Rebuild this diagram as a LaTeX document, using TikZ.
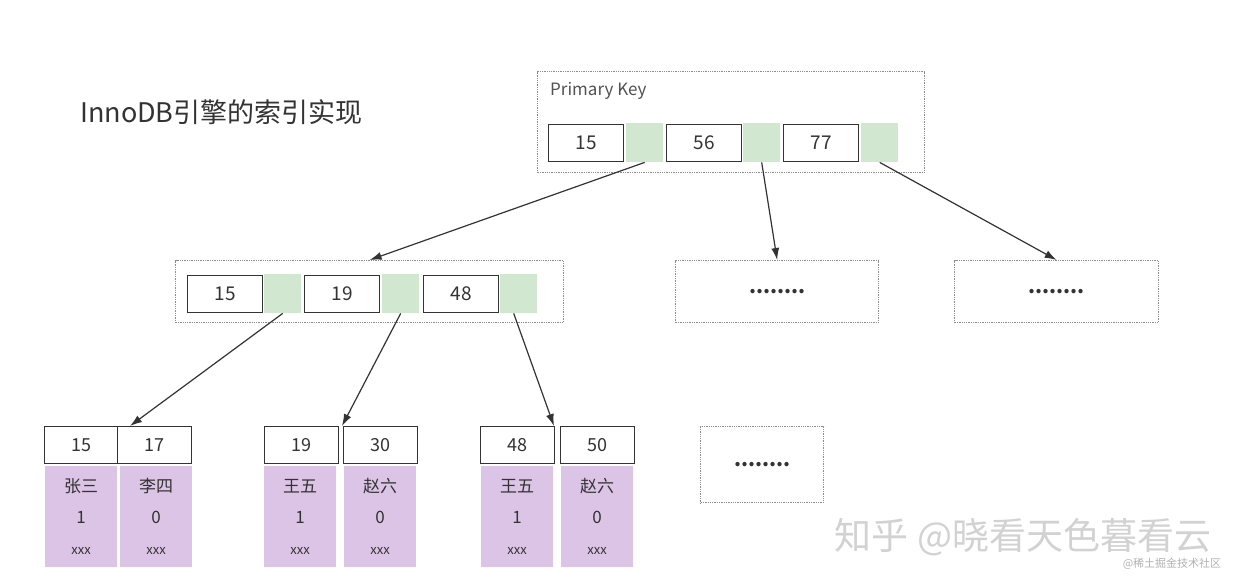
\documentclass[tikz,border=0pt]{standalone}
\usepackage{fontspec}
\setmainfont{Noto Sans CJK SC}
\usetikzlibrary{arrows.meta}
\definecolor{keygreen}{HTML}{D2E7CF}
\definecolor{rowpurple}{HTML}{DCC4E6}
\definecolor{inkgray}{HTML}{333333}

\begin{document}
\begin{tikzpicture}[x=1pt, y=-1pt,
    every node/.style={text=inkgray, inner sep=0pt},
    page/.style={draw=gray!90, densely dotted, line width=1.3pt, anchor=north west},
    keybox/.style={draw=inkgray, line width=1pt, fill=white, anchor=north west,
      minimum width=75pt, minimum height=37pt, font=\fontsize{19}{19}\selectfont},
    ptr/.style={fill=keygreen, anchor=north west, minimum width=37pt, minimum height=39pt},
    leafkey/.style={keybox, minimum width=74pt, font=\fontsize{18}{18}\selectfont},
    rowcell/.style={fill=rowpurple, anchor=north west, minimum width=72pt, minimum height=101pt,
      align=center, font=\fontsize{17}{31}\selectfont},
    more/.style={font=\bfseries\fontsize{20}{20}\selectfont},
    link/.style={-{Latex[length=12pt,width=8pt]}, draw=inkgray, line width=1.2pt}]
  \useasboundingbox[fill=white] (0,0) rectangle (1240,586);

  \node[anchor=west, font=\fontsize{27}{27}\selectfont, text=inkgray] (title) at (80,112) {InnoDB引擎的索引实现};

  % root page
  \node[page, minimum width=387pt, minimum height=101pt] (root) at (537,71) {};
  \node[anchor=west, font=\fontsize{17}{17}\selectfont, text=inkgray!85] (pkname) at (550,91) {Primary Key};
  \node[keybox] (k15) at (548,124) {15};
  \node[ptr] (p15) at (626,123) {};
  \node[keybox] (k56) at (666,124) {56};
  \node[ptr] (p56) at (743,123) {};
  \node[keybox] (k77) at (783,124) {77};
  \node[ptr] (p77) at (861,123) {};

  % second level
  \node[page, minimum width=388pt, minimum height=62pt] (mid) at (175,260) {};
  \node[keybox] (m15) at (187,275) {15};
  \node[ptr] (q15) at (264,274) {};
  \node[keybox] (m19) at (304,275) {19};
  \node[ptr] (q19) at (382,274) {};
  \node[keybox] (m48) at (423,275) {48};
  \node[ptr] (q48) at (500,274) {};
  \node[page, minimum width=203pt, minimum height=62pt, more] (midb) at (675,260) {........};
  \node[page, minimum width=204pt, minimum height=62pt, more] (midc) at (954,260) {........};

  % leaves
  \node[leafkey] (l15) at (44,426) {15};
  \node[leafkey] (l17) at (117,426) {17};
  \node[rowcell] (r15) at (45,466) {张三\\1\\{\fontsize{13}{31}\selectfont xxx}};
  \node[rowcell] (r17) at (120,466) {李四\\0\\{\fontsize{13}{31}\selectfont xxx}};

  \node[leafkey] (l19) at (264,426) {19};
  \node[leafkey] (l30) at (343,426) {30};
  \node[rowcell] (r19) at (264,466) {王五\\1\\{\fontsize{13}{31}\selectfont xxx}};
  \node[rowcell] (r30) at (344,466) {赵六\\0\\{\fontsize{13}{31}\selectfont xxx}};

  \node[leafkey] (l48) at (480,426) {48};
  \node[leafkey] (l50) at (560,426) {50};
  \node[rowcell] (r48) at (481,466) {王五\\1\\{\fontsize{13}{31}\selectfont xxx}};
  \node[rowcell] (r50) at (561,466) {赵六\\0\\{\fontsize{13}{31}\selectfont xxx}};

  \node[page, minimum width=123pt, minimum height=76pt, more] (leafd) at (700,426) {........};

  % pointers
  \draw[link] (p15.south) -- (mid.north);
  \draw[link] (p56.south) -- (midb.north);
  \draw[link] (p77.south) -- (midc.north);
  \draw[link] (q15.south) -- ([xshift=11pt]l15.north east);
  \draw[link] (q19.south) -- ([xshift=3pt]l19.north east);
  \draw[link] ([xshift=-5pt]q48.south) -- ([xshift=-1pt]l48.north east);

  % watermark
  \node[font=\fontsize{37}{37}\selectfont, text=gray!35] (mark) at (1023,537) {知乎 @晓看天色暮看云};
  \node[font=\fontsize{11}{11}\selectfont, text=gray!60] (site) at (1172,564) {@稀土掘金技术社区};
\end{tikzpicture}
\end{document}
